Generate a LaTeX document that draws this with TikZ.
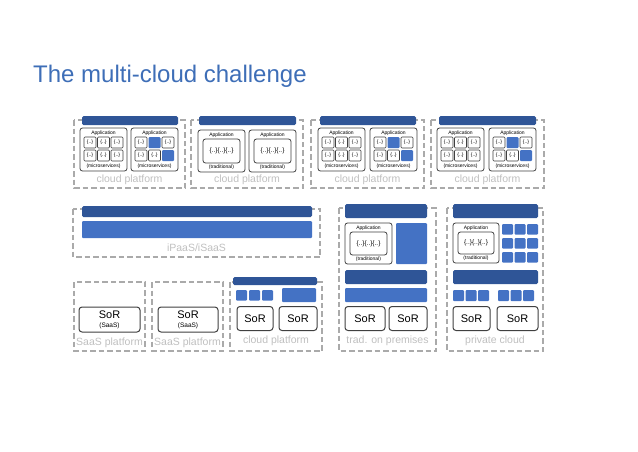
\documentclass[tikz,border=0pt]{standalone}
\usepackage{fontspec}
\setmainfont{Liberation Sans}
\usepackage{tikz}
\usetikzlibrary{calc}

\definecolor{barDark}{RGB}{47,85,151}
\definecolor{barBlue}{RGB}{68,114,196}
\definecolor{titleBlue}{RGB}{62,110,183}
\definecolor{frameGray}{RGB}{170,170,170}
\definecolor{labelGray}{RGB}{191,191,191}
\definecolor{boxGray}{RGB}{64,64,64}

\tikzset{
  title/.style={font=\fontsize{24}{28}\selectfont, text=titleBlue, inner sep=0},
  platform/.style={draw=frameGray, line width=1.3pt, dash pattern=on 5.5pt off 3pt},
  darkbar/.style={fill=barDark, rounded corners=1.5pt},
  bluebar/.style={fill=barBlue, rounded corners=1pt},
  appbox/.style={draw=boxGray, line width=0.8pt, fill=white, rounded corners=2.5pt},
  msbox/.style={draw=boxGray, line width=0.65pt, rounded corners=1pt},
  apptext/.style={font=\fontsize{5}{5}\selectfont, inner sep=0},
  bracetext/.style={font=\fontsize{5}{5}\selectfont, inner sep=0},
  tradtext/.style={font=\fontsize{6.5}{7}\selectfont, inner sep=0},
  platlabel/.style={font=\fontsize{10.5}{12}\selectfont, text=labelGray, inner sep=0},
  sorbox/.style={draw=boxGray, line width=1pt, rounded corners=3pt, fill=white,
    font=\fontsize{11}{13}\selectfont, inner sep=0},
  sortext/.style={font=\fontsize{11}{13}\selectfont, inner sep=0},
  saastext/.style={font=\fontsize{6.5}{7}\selectfont, inner sep=0}
}

% microservice app at top left (#1,#2): cells with {..} in #3, blue cells in #4
\def\msapp(#1,#2)#3#4{%
  \begin{scope}[shift={(#1,#2)}]
    \draw[appbox] (0,0) rectangle (47,43);
    \node[apptext] at (23.5,5) {Application};
    \foreach \c/\r in {#3} {
      \draw[msbox] (4+\c*13.5,9+\r*13) rectangle ++(12,11);
      \node[bracetext] at (10+\c*13.5,14.5+\r*13) {\{..\}};
    }
    \foreach \c/\r in {#4} {
      \fill[bluebar] (4+\c*13.5,9+\r*13) rectangle ++(12,11);
    }
    \node[apptext] at (23.5,38.5) {(microservices)};
  \end{scope}}

% traditional app at top left (#1,#2), width #3, height #4
\def\tradapp(#1,#2)(#3,#4){%
  \begin{scope}[shift={(#1,#2)}]
    \draw[appbox] (0,0) rectangle (#3,#4);
    \node[apptext] at (#3/2,5) {Application};
    \draw[appbox] (5,9) rectangle (#3-5,#4-9);
    \node[tradtext] at (#3/2,#4/2) {\{..\}\{..\}\{..\}};
    \node[apptext] at (#3/2,#4-4.5) {(traditional)};
  \end{scope}}

\begin{document}
\begin{tikzpicture}[x=1pt,y=-1pt]
  \useasboundingbox (0,0) rectangle (638,451);
  %%%%% TITLE %%%%%
  \node[title, anchor=base west] (title) at (33,82) {The multi-cloud challenge};

  %%%%% CLOUD PLATFORMS %%%%%
  \draw[platform] (74,120) rectangle (185,188);
  \fill[darkbar] (82,116) rectangle (178,125);
  \msapp(80,128){0/0,1/0,2/0,0/1,1/1,2/1}{}
  \msapp(131,128){0/0,2/0,0/1,1/1}{1/0,2/1}
  \node[platlabel] (cp1) at (129.5,180) {cloud platform};

  \draw[platform] (191,120) rectangle (303,188);
  \fill[darkbar] (199,116) rectangle (296,125);
  \tradapp(198,130)(47,42)
  \tradapp(249,130)(47,42)
  \node[platlabel] (cp2) at (247,180) {cloud platform};

  \draw[platform] (311,120) rectangle (424,188);
  \fill[darkbar] (320,116) rectangle (416,125);
  \msapp(318,128){0/0,1/0,2/0,0/1,1/1,2/1}{}
  \msapp(370,128){0/0,2/0,0/1,1/1}{1/0,2/1}
  \node[platlabel] (cp3) at (367.5,180) {cloud platform};

  \draw[platform] (431,120) rectangle (544,188);
  \fill[darkbar] (439,116) rectangle (536,125);
  \msapp(437,128){0/0,1/0,2/0,0/1,1/1,2/1}{}
  \msapp(489,128){0/0,2/0,0/1,1/1}{1/0,2/1}
  \node[platlabel] (cp4) at (487.5,180) {cloud platform};

  %%%%% iPaaS %%%%%
  \draw[platform] (73,209) rectangle (320,257);
  \fill[darkbar] (82,206) rectangle (312,217);
  \fill[bluebar] (82,221) rectangle (312,238);
  \node[platlabel] (ipaas) at (196.5,248) {iPaaS/iSaaS};

  %%%%% TRAD. ON PREMISES %%%%%
  \draw[platform] (339,208) rectangle (436,351);
  \fill[darkbar] (345,204) rectangle (427,218);
  \tradapp(345,223)(47,41)
  \fill[bluebar] (396,223) rectangle (427,264);
  \fill[darkbar] (345,270) rectangle (427,284);
  \fill[bluebar] (345,288) rectangle (427,302);
  \node[sorbox, minimum width=40, minimum height=24] (sor3) at (365,318.5) {SoR};
  \node[sorbox, minimum width=38, minimum height=24] (sor4) at (408,318.5) {SoR};
  \node[platlabel] (prem) at (387.5,341) {trad. on premises};

  %%%%% PRIVATE CLOUD %%%%%
  \draw[platform] (447,208) rectangle (543,351);
  \fill[darkbar] (453,204) rectangle (538,218);
  \tradapp(453,223)(46,40)
  \foreach \c in {0,1,2}
    \foreach \r in {0,1,2}
      \fill[bluebar] (502+\c*12.5,224+\r*14) rectangle ++(11,10.5);
  \fill[darkbar] (453,270) rectangle (538,284);
  \foreach \x in {453,465.5,478,498,510.5,523}
    \fill[bluebar] (\x,290) rectangle ++(11,11);
  \node[sorbox, minimum width=37, minimum height=24] (sor5) at (471.5,318.5) {SoR};
  \node[sorbox, minimum width=41, minimum height=24] (sor6) at (517.5,318.5) {SoR};
  \node[platlabel] (priv) at (495,341) {private cloud};

  %%%%% SaaS PLATFORMS %%%%%
  \draw[platform] (74,282) rectangle (145,351);
  \node[sorbox, minimum width=61, minimum height=25] (saas1) at (109.5,319.5) {};
  \node[sortext] (saas1a) at (109.5,315) {SoR};
  \node[saastext] (saas1b) at (109.5,326) {(SaaS)};
  \node[platlabel] (sp1) at (109.5,343) {SaaS platform};

  \draw[platform] (152,282) rectangle (223,351);
  \node[sorbox, minimum width=60, minimum height=25] (saas2) at (188,319.5) {};
  \node[sortext] (saas2a) at (188,315) {SoR};
  \node[saastext] (saas2b) at (188,326) {(SaaS)};
  \node[platlabel] (sp2) at (187.5,343) {SaaS platform};

  %%%%% SMALL CLOUD PLATFORM %%%%%
  \draw[platform] (230,282) rectangle (322,351);
  \fill[darkbar] (233,277) rectangle (317,285);
  \foreach \x in {236,249,262}
    \fill[bluebar] (\x,290) rectangle ++(11,10.5);
  \fill[bluebar] (282,288) rectangle (316,302);
  \node[sorbox, minimum width=36, minimum height=24] (sor1) at (255,318.5) {SoR};
  \node[sorbox, minimum width=38, minimum height=24] (sor2) at (298,318.5) {SoR};
  \node[platlabel] (cp5) at (276,341) {cloud platform};
\end{tikzpicture}
\end{document}
